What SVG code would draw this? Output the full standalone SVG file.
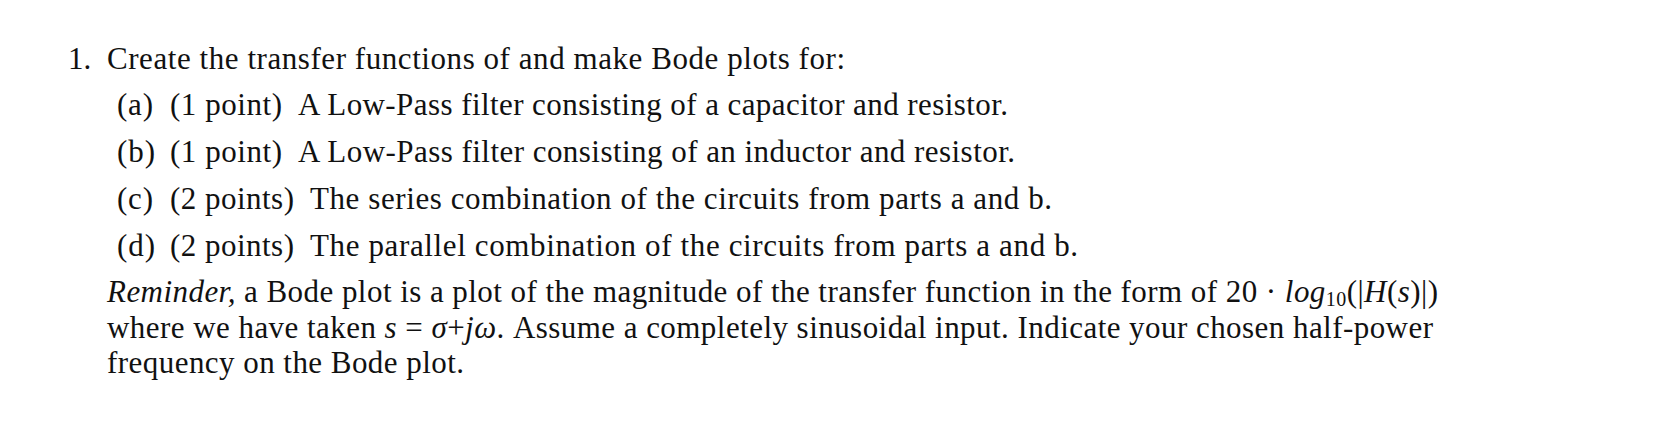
<svg xmlns="http://www.w3.org/2000/svg" width="1676" height="426" viewBox="0 0 1676 426">
<style>
text{font-family:"Liberation Serif","DejaVu Serif",serif;font-size:31px;fill:#111}
.i{font-style:italic}
.s{font-size:20px}
</style>
<rect width="1676" height="426" fill="#fff"/>
<g id="q1">
<text x="68" y="69">1.</text>
<text x="107" y="69" textLength="738" lengthAdjust="spacing">Create the transfer functions of and make Bode plots for:</text>
</g>
<g id="qa">
<text x="117" y="115" textLength="36" lengthAdjust="spacing">(a)</text><text x="170" y="115" textLength="112" lengthAdjust="spacing">(1 point)</text>
<text x="298" y="115" textLength="710" lengthAdjust="spacing">A Low-Pass filter consisting of a capacitor and resistor.</text>
</g>
<g id="qb">
<text x="117" y="162" textLength="38" lengthAdjust="spacing">(b)</text><text x="170" y="162" textLength="112" lengthAdjust="spacing">(1 point)</text>
<text x="298" y="162" textLength="717" lengthAdjust="spacing">A Low-Pass filter consisting of an inductor and resistor.</text>
</g>
<g id="qc">
<text x="117" y="209" textLength="36" lengthAdjust="spacing">(c)</text><text x="170" y="209" textLength="124" lengthAdjust="spacing">(2 points)</text>
<text x="310" y="209" textLength="742" lengthAdjust="spacing">The series combination of the circuits from parts a and b.</text>
</g>
<g id="qd">
<text x="117" y="256" textLength="38" lengthAdjust="spacing">(d)</text><text x="170" y="256" textLength="124" lengthAdjust="spacing">(2 points)</text>
<text x="310" y="256" textLength="768" lengthAdjust="spacing">The parallel combination of the circuits from parts a and b.</text>
</g>
<g id="reminder">
<text x="107" y="302" textLength="1331" lengthAdjust="spacing"><tspan class="i">Reminder,</tspan> a Bode plot is a plot of the magnitude of the transfer function in the form of 20 · <tspan class="i">log</tspan><tspan class="s" dy="4">10</tspan><tspan dy="-4">(|</tspan><tspan class="i">H</tspan>(<tspan class="i">s</tspan>)|)</text>
<text x="107" y="338" textLength="1326" lengthAdjust="spacing">where we have taken <tspan class="i">s</tspan>  =  <tspan class="i">σ</tspan>+<tspan class="i">jω</tspan>. Assume a completely sinusoidal input. Indicate your chosen half-power</text>
<text x="107" y="373" textLength="357" lengthAdjust="spacing">frequency on the Bode plot.</text>
</g>
</svg>
